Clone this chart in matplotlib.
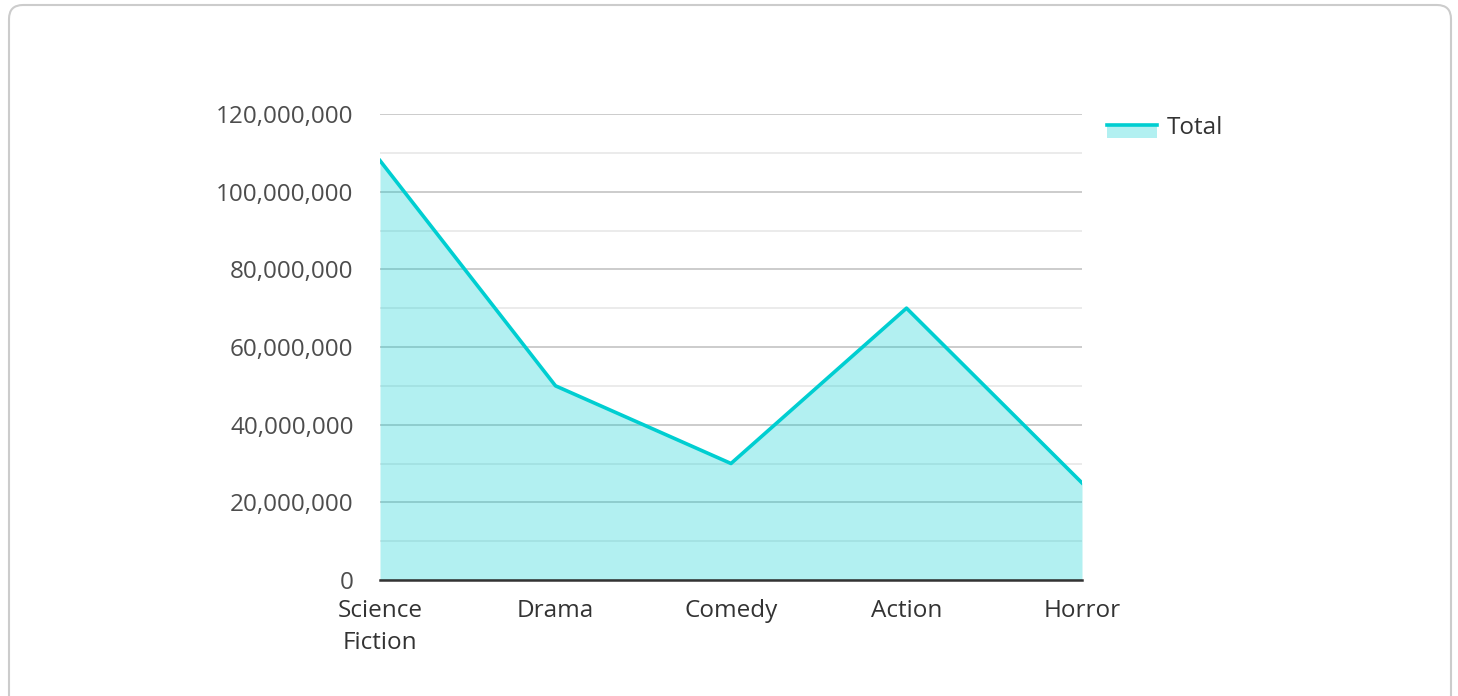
import matplotlib.pyplot as plt
from matplotlib.patches import FancyBboxPatch, Rectangle
from matplotlib.lines import Line2D
from matplotlib.ticker import MultipleLocator, FuncFormatter

plt.rcParams['font.family'] = ['Open Sans', 'DejaVu Sans']

# Data
genres = ["Science\nFiction", "Drama", "Comedy", "Action", "Horror"]
totals = [108000000, 50000000, 30000000, 70000000, 25000000]
series_name = "Total"

line_color = "#00CED1"
W, H = 1458, 696
FS = 17.5

fig = plt.figure(figsize=(W / 100, H / 100), dpi=100)

# rounded card border, bottom edge runs off the image
card = FancyBboxPatch((0.09, -0.3), 14.42, 7.21,
                      boxstyle="round,pad=0,rounding_size=0.14",
                      transform=fig.dpi_scale_trans, facecolor="none",
                      edgecolor="#cccccc", linewidth=1.5, zorder=-1)
fig.patches.append(card)

ax = fig.add_axes([380 / W, 1 - 580 / H, 702 / W, 466 / H])
ax.set_facecolor("none")

x = list(range(len(genres)))
ax.fill_between(x, totals, 0, color=line_color, alpha=0.3, linewidth=0, zorder=3)
ax.plot(x, totals, color=line_color, linewidth=2.6, zorder=4)

ax.set_xlim(0, len(genres) - 1)
ax.set_ylim(0, 120000000)
ax.yaxis.set_major_locator(MultipleLocator(20000000))
ax.yaxis.set_minor_locator(MultipleLocator(10000000))
ax.yaxis.set_major_formatter(FuncFormatter(lambda v, p: f"{int(v):,}"))
ax.grid(True, which="major", axis="y", color="#c4c4c4", linewidth=1.2, zorder=1)
ax.grid(True, which="minor", axis="y", color="#e8e8e8", linewidth=1.2, zorder=1)
ax.set_axisbelow(True)

for s in ["top", "right", "left"]:
    ax.spines[s].set_visible(False)
ax.spines["bottom"].set_color("#333333")
ax.spines["bottom"].set_linewidth(1.8)
ax.spines["bottom"].set_zorder(5)

ax.set_xticks(x)
ax.set_xticklabels(genres, fontsize=FS, color="#333333", linespacing=1.4)
ax.tick_params(axis="x", length=0, pad=14)
ax.tick_params(axis="y", which="both", length=0, pad=19, labelsize=FS, labelcolor="#4d4d4d")

# legend drawn by hand to mimic line-over-area swatch
fig.patches.append(Rectangle((1107 / W, 1 - 138 / H), 50 / W, 13 / H,
                             transform=fig.transFigure, facecolor=line_color,
                             alpha=0.3, linewidth=0))
fig.lines.append(Line2D([1107 / W, 1157 / W], [1 - 125 / H, 1 - 125 / H],
                        transform=fig.transFigure, color=line_color, linewidth=2.6))
fig.text(1167 / W, 1 - 128 / H, series_name, fontsize=FS, color="#333333",
         va="center", ha="left")

fig.savefig("out.png", dpi=100)
